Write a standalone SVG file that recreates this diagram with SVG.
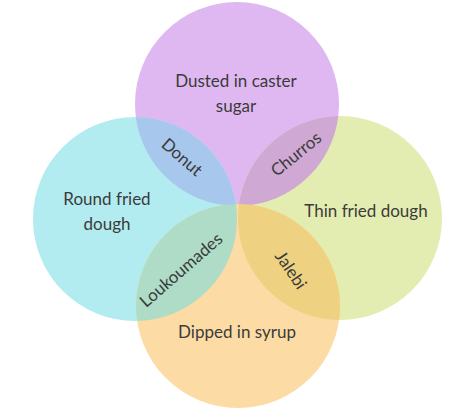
<svg xmlns="http://www.w3.org/2000/svg" width="474" height="420" viewBox="0 0 474 420">
<style>
text{font-family:Lato,"Open Sans","Liberation Sans",sans-serif;font-size:17px;fill:#3b3b3b;text-anchor:middle}
.lens{stroke:none}
</style>
<defs>
<clipPath id="clipTop"><circle cx="237" cy="104" r="102"/></clipPath>
<clipPath id="clipBottom"><circle cx="238" cy="306" r="102"/></clipPath>
</defs>
<rect width="474" height="420" fill="#ffffff"/>
<g id="connectors"></g>
<g id="node-top"><circle cx="237" cy="104" r="102" fill="#dfb8f2"/></g>
<g id="node-left"><circle cx="135" cy="219" r="102" fill="#b3ecf0"/></g>
<g id="node-right"><circle cx="340" cy="218" r="102" fill="#e3edb1"/></g>
<g id="node-bottom"><circle cx="238" cy="306" r="102" fill="#fcdba5"/></g>
<g id="node-donut"><circle class="lens" cx="135" cy="219" r="102" fill="#a7c8ec" clip-path="url(#clipTop)"/></g>
<g id="node-churros"><circle class="lens" cx="340" cy="218" r="102" fill="#cfa9d4" clip-path="url(#clipTop)"/></g>
<g id="node-loukoumades"><circle class="lens" cx="135" cy="219" r="102" fill="#aedcc7" clip-path="url(#clipBottom)"/></g>
<g id="node-jalebi"><circle class="lens" cx="340" cy="218" r="102" fill="#eed281" clip-path="url(#clipBottom)"/></g>
<g id="labels">
<text x="236" y="87">Dusted in caster</text>
<text x="236" y="112">sugar</text>
<text x="107" y="205">Round fried</text>
<text x="107" y="230">dough</text>
<text x="366" y="217">Thin fried dough</text>
<text x="237" y="338">Dipped in syrup</text>
<text transform="translate(182,157) rotate(41)" dy="0.35em">Donut</text>
<text transform="translate(296,154) rotate(-39)" dy="0.35em">Churros</text>
<text transform="translate(181,270) rotate(-41)" dy="0.35em">Loukoumades</text>
<text transform="translate(291,270) rotate(56)" dy="0.35em">Jalebi</text>
</g>
</svg>
